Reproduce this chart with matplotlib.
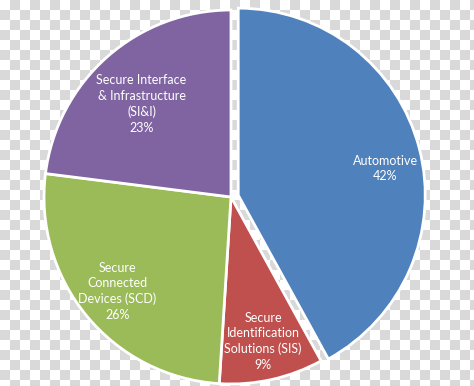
import numpy as np
from matplotlib import pyplot as plt
from matplotlib.colors import ListedColormap

labels = ['Automotive', 'Secure\nIdentification\nSolutions (SIS)',
          'Secure\nConnected\nDevices (SCD)', 'Secure Interface\n& Infrastructure\n(SI&I)']
shares = [42, 9, 26, 23]

COLORS = ['#4f81bd', '#c0504d', '#9bbb59', '#8064a2']
explode = [0.04, 0, 0, 0]
label_r = [0.80, 0.79, 0.79, 0.69]
label_dth = [-4, 0, 0, 2.5]

fig = plt.figure(figsize=(4.74, 3.86), dpi=100, facecolor='white')

# checkerboard background (10 px squares)
bg = fig.add_axes([0, 0, 1, 1])
nx, ny = 48, 39
board = np.add.outer(np.arange(ny), np.arange(nx)) % 2
bg.imshow(board, cmap=ListedColormap(['white', '#d9d9d9']), extent=(0, nx * 10, 386 - ny * 10, 386),
          origin='upper', interpolation='nearest')
bg.set_xlim(0, 474)
bg.set_ylim(0, 386)
bg.axis('off')

ax = fig.add_axes([0, 0, 1, 1])
ax.patch.set_alpha(0)
wedges, texts = ax.pie(shares, colors=COLORS, explode=explode, startangle=90,
                       counterclock=False,
                       wedgeprops=dict(edgecolor='white', linewidth=2))

for w, lab, s, r, d, e in zip(wedges, labels, shares, label_r, label_dth, explode):
    ang = np.deg2rad((w.theta1 + w.theta2) / 2 + d)
    ax.text((r + e) * np.cos(ang), (r + e) * np.sin(ang), lab + '\n' + str(s) + '%',
            ha='center', va='center', color='white', fontsize=9,
            family='Lato', linespacing=1.35)

ax.set_xlim(-231 / 187, (474 - 231) / 187)
ax.set_ylim(-189 / 187, (386 - 189) / 187)

plt.savefig('out.png', dpi=100)
